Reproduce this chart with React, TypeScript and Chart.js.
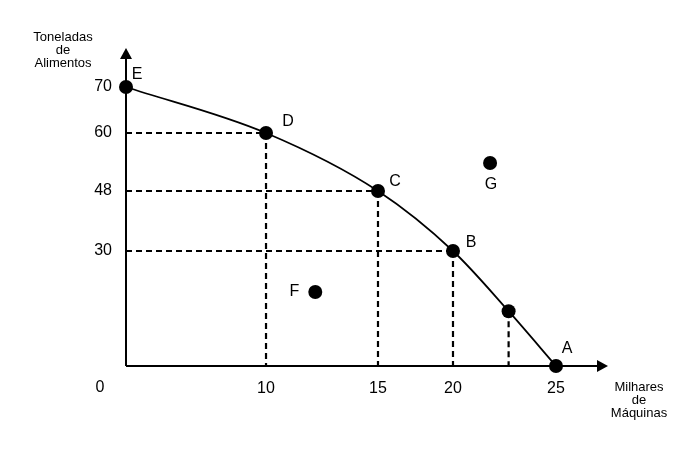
import React, { useEffect, useRef } from 'react';
import { Chart, LinearScale, registerables } from 'chart.js';

// ---- Data ----
const frontierNames = ['E', 'D', 'C', 'B', '', 'A'];
const frontierX = [0, 10, 15, 20, 22.7, 25];
const frontierY = [70, 60, 48, 30, 14.3, 0];
const insideName = 'F';
const insideX = [12.2];
const insideY = [19.3];
const outsideName = 'G';
const outsideX = [21.8];
const outsideY = [53.8];
const xTicks = [10, 15, 20, 25];
const yTicks = [30, 48, 60, 70];
const horizontalGuides = [1, 2, 3]; // indices into frontier
const verticalGuides = [1, 2, 3, 4];
const yTitle = ['Toneladas', 'de', 'Alimentos'];
const xTitle = ['Milhares', 'de', 'Máquinas'];
const originLabel = '0';

// ---- Schematic (non-proportional) axis warp tables ----
const WARPS: Record<string, { values: number[]; fractions: number[] }> = {
  x: { values: [0, 10, 15, 20, 25, 30], fractions: [0, 0.2905, 0.5228, 0.6784, 0.8921, 1] },
  y: { values: [0, 30, 48, 60, 70, 80], fractions: [0, 0.3616, 0.5503, 0.7327, 0.8774, 1] },
};

function interp(v: number, a: number[], b: number[]): number {
  const n = a.length;
  let i = 1;
  while (i < n - 1 && v > a[i]) i++;
  const t = (v - a[i - 1]) / (a[i] - a[i - 1]);
  return b[i - 1] + t * (b[i] - b[i - 1]);
}

class WarpScale extends LinearScale {
  static id = 'warp';
  static defaults = {};
  getPixelForValue(value: any) {
    if (value === null || value === undefined || isNaN(value)) return NaN;
    const w = WARPS[(this as any).id];
    return this.getPixelForDecimal(interp(+value, w.values, w.fractions));
  }
  getValueForPixel(pixel: number) {
    const w = WARPS[(this as any).id];
    return interp(this.getDecimalForPixel(pixel), w.fractions, w.values);
  }
}

Chart.register(...registerables, WarpScale);

const FONT = '"Liberation Sans", Arial, sans-serif';
const labelOffsets: Record<string, [number, number]> = {
  E: [11, -12], D: [22, -11], C: [17, -9], B: [18, -8], A: [11, -17], F: [-21, 0], G: [1, 22],
};

const drawPlugin = {
  id: 'schematic',
  beforeDatasetsDraw(chart: any) {
    const { ctx, chartArea, scales } = chart;
    const x0 = scales.x.getPixelForValue(0);
    const y0 = scales.y.getPixelForValue(0);
    ctx.save();
    ctx.strokeStyle = '#000';
    ctx.fillStyle = '#000';
    ctx.lineWidth = 2;
    ctx.beginPath();
    ctx.moveTo(x0, y0);
    ctx.lineTo(x0, chartArea.top + 8);
    ctx.moveTo(x0, y0);
    ctx.lineTo(chartArea.right - 8, y0);
    ctx.stroke();
    ctx.beginPath();
    ctx.moveTo(x0, chartArea.top);
    ctx.lineTo(x0 - 6, chartArea.top + 11);
    ctx.lineTo(x0 + 6, chartArea.top + 11);
    ctx.closePath();
    ctx.fill();
    ctx.beginPath();
    ctx.moveTo(chartArea.right, y0);
    ctx.lineTo(chartArea.right - 11, y0 - 6);
    ctx.lineTo(chartArea.right - 11, y0 + 6);
    ctx.closePath();
    ctx.fill();
    ctx.restore();
  },
  afterDatasetsDraw(chart: any) {
    const { ctx, chartArea, scales } = chart;
    ctx.save();
    ctx.fillStyle = '#000';
    ctx.textAlign = 'center';
    ctx.textBaseline = 'middle';
    ctx.font = `16px ${FONT}`;
    const label = (name: string, px: number, py: number) => {
      if (!name) return;
      const o = labelOffsets[name] || [0, 0];
      ctx.fillText(name, px + o[0], py + o[1]);
    };
    const m0 = chart.getDatasetMeta(0);
    m0.data.forEach((el: any, i: number) => label(frontierNames[i], el.x, el.y));
    const m1 = chart.getDatasetMeta(1);
    label(insideName, m1.data[0].x, m1.data[0].y);
    const m2 = chart.getDatasetMeta(2);
    label(outsideName, m2.data[0].x, m2.data[0].y);

    // origin label
    ctx.font = `16px ${FONT}`;
    ctx.fillText(originLabel, scales.x.getPixelForValue(0) - 26, chartArea.bottom + 22);

    // axis titles
    ctx.font = `13px ${FONT}`;
    yTitle.forEach((t, i) => ctx.fillText(t, 63, 37 + i * 13));
    xTitle.forEach((t, i) => ctx.fillText(t, chartArea.right + 31, chartArea.bottom + 21 + i * 13));
    ctx.restore();
  },
};

export default function App() {
  const ref = useRef<HTMLCanvasElement>(null);
  useEffect(() => {
    document.body.style.margin = '0';
    const pts = frontierX.map((x, i) => ({ x, y: frontierY[i] }));
    const guides: any[] = [];
    horizontalGuides.forEach((i) => {
      guides.push([{ x: 0, y: frontierY[i] }, { x: frontierX[i], y: frontierY[i] }]);
    });
    verticalGuides.forEach((i) => {
      guides.push([{ x: frontierX[i], y: frontierY[i] }, { x: frontierX[i], y: 0 }]);
    });
    const dot = { pointRadius: 7, pointHoverRadius: 7, pointBackgroundColor: '#000', pointBorderColor: '#000', pointBorderWidth: 0 };
    const chart = new Chart(ref.current!, {
      type: 'line',
      data: {
        datasets: [
          {
            data: pts,
            borderColor: '#000',
            borderWidth: 1.75,
            cubicInterpolationMode: 'monotone',
            clip: false,
            order: 0,
            ...dot,
          } as any,
          { data: insideX.map((x, i) => ({ x, y: insideY[i] })), showLine: false, clip: false, ...dot } as any,
          { data: outsideX.map((x, i) => ({ x, y: outsideY[i] })), showLine: false, clip: false, ...dot } as any,
          ...guides.map(
            (g) =>
              ({
                data: g,
                borderColor: '#000',
                borderWidth: 2.2,
                borderDash: [6, 4],
                pointRadius: 0,
                clip: false,
                order: 5,
              } as any)
          ),
        ],
      },
      options: {
        animation: false,
        responsive: true,
        maintainAspectRatio: false,
        events: [],
        layout: { padding: { top: 48, right: 92, left: 0, bottom: 0 } },
        plugins: { legend: { display: false }, tooltip: { enabled: false } },
        scales: {
          x: {
            type: 'warp' as any,
            min: 0,
            max: 30,
            grid: { display: false, drawTicks: false },
            border: { display: false },
            ticks: { color: '#000', font: { family: FONT, size: 16 }, padding: 13, autoSkip: false, maxRotation: 0, callback: (v: any) => String(v) },
            afterBuildTicks: (s: any) => {
              s.ticks = xTicks.map((value) => ({ value }));
            },
            afterFit: (s: any) => {
              s.height = 85;
            },
          },
          y: {
            type: 'warp' as any,
            min: 0,
            max: 80,
            grid: { display: false, drawTicks: false },
            border: { display: false },
            ticks: { color: '#000', font: { family: FONT, size: 16 }, padding: 14, autoSkip: false, callback: (v: any) => String(v) },
            afterBuildTicks: (s: any) => {
              s.ticks = yTicks.map((value) => ({ value }));
            },
            afterFit: (s: any) => {
              s.width = 126;
            },
          },
        } as any,
      },
      plugins: [drawPlugin],
    });
    return () => chart.destroy();
  }, []);
  return (
    <div style={{ width: 700, height: 451, position: 'relative', background: '#fff' }}>
      <canvas ref={ref} />
    </div>
  );
}
